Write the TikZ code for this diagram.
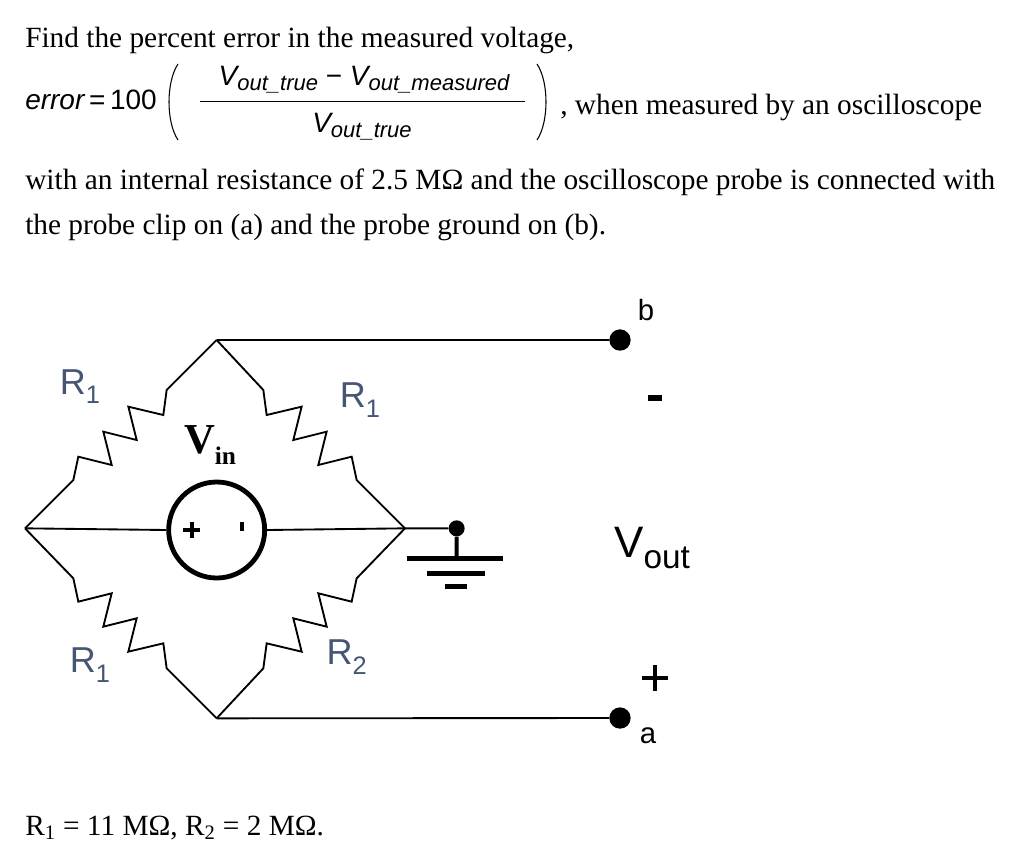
\documentclass[tikz,border=0pt]{standalone}
\usepackage{fontspec}
\setmainfont{Liberation Serif}
\newfontfamily\lsans{Liberation Sans}
\begin{document}
\begin{tikzpicture}[x=0.75pt,y=-0.75pt,
  txt/.style={anchor=west,inner sep=0,font=\fontsize{22}{24}\selectfont},
  frm/.style={inner sep=0,font=\lsans\itshape\fontsize{21}{23}\selectfont},
  lbl/.style={inner sep=0,text={rgb,255:red,70;green,85;blue,115},font=\lsans\fontsize{27}{29}\selectfont},
  blk/.style={inner sep=0,font=\lsans\fontsize{22}{24}\selectfont},
  wire/.style={line width=1.4pt,line join=miter}]
\useasboundingbox (0,0) rectangle (1024,858);
% text
\node[txt] (t1) at (25,40) {Find the percent error in the measured voltage,};
\node[frm,anchor=west] (e) at (25,100) {error\,\upshape =\,100};
\draw[line width=0.8pt] (178,64) .. controls (166,82) and (166,122) .. (178,140);
\draw[line width=0.8pt] (537,64) .. controls (549,82) and (549,122) .. (537,140);
\draw[line width=0.7pt] (200,101) -- (525,101);
\node[frm] (num) at (364,80) {V\raisebox{-0.35ex}{\fontsize{16.5}{17}\selectfont out\_true} \upshape − \itshape V\raisebox{-0.35ex}{\fontsize{16.5}{17}\selectfont out\_measured}};
\node[frm] (den) at (362,127) {V\raisebox{-0.35ex}{\fontsize{16.5}{17}\selectfont out\_true}};
\node[txt] (t2) at (560,107) {, when measured by an oscilloscope};
\node[txt] (t3) at (25,182) {with an internal resistance of 2.5 MΩ and the oscilloscope probe is connected with};
\node[txt] (t4) at (25,227) {the probe clip on (a) and the probe ground on (b).};
\node[txt] (t5) at (25,828) {R\textsubscript{1} = 11 MΩ, R\textsubscript{2} = 2 MΩ.};
% circuit
\begin{scope}[shift={(20,320)},scale=1/3]
\coordinate (L) at (15,625); \coordinate (T) at (590,60);
\coordinate (R) at (1155,625); \coordinate (B) at (590,1195);
\draw[wire] (L) -- (160,480) -- (175,410) -- (275,435) -- (250,335) -- (350,360) -- (325,260) -- (430,285) -- (440,210) -- (T);
\draw[wire] (R) -- (1010,480) -- (995,410) -- (895,435) -- (920,335) -- (820,360) -- (845,260) -- (740,285) -- (730,210) -- (T);
\draw[wire] (L) -- (160,775) -- (175,845) -- (275,820) -- (250,920) -- (350,895) -- (325,995) -- (430,970) -- (440,1045) -- (B);
\draw[wire] (R) -- (1010,775) -- (995,845) -- (895,820) -- (920,920) -- (820,895) -- (845,995) -- (740,970) -- (730,1045) -- (B);
\node[draw,circle,line width=3.6pt,minimum size=72pt,inner sep=0] (src) at (590,630) {};
\draw[wire] (L) -- (src.west);
\draw[wire] (src.east) -- (R);
\draw[line width=3pt] (490,630) -- (540,630) (515,605) -- (515,655);
\draw[line width=3pt] (665,606) -- (665,634);
\node[font=\bfseries\fontsize{32}{32}\selectfont,inner sep=0] (vin) at (570,375) {V\raisebox{-0.6ex}{\fontsize{19}{19}\selectfont in}};
\node[circle,fill,inner sep=0,minimum size=12pt] (gd) at (1310,625) {};
\draw[wire] (R) -- (gd);
\draw[line width=3pt] (gd) -- (1310,715);
\draw[line width=3.6pt] (1160,715) -- (1450,715) (1220,760) -- (1395,760) (1275,800) -- (1340,800);
\node[lbl] (l1) at (180,200) {R\raisebox{-0.5ex}{\fontsize{19}{19}\selectfont 1}};
\node[lbl] (l2) at (1020,240) {R\raisebox{-0.5ex}{\fontsize{19}{19}\selectfont 1}};
\node[lbl] (l3) at (210,1035) {R\raisebox{-0.5ex}{\fontsize{19}{19}\selectfont 1}};
\node[lbl] (l4) at (980,1012) {R\raisebox{-0.5ex}{\fontsize{19}{19}\selectfont 2}};
\end{scope}
\node[circle,fill,inner sep=0,minimum size=16pt] (b) at (620,340) {};
\node[circle,fill,inner sep=0,minimum size=16pt] (a) at (620,718) {};
\draw[wire] (T) -- (b);
\draw[wire] (B) -- (a);
\node[blk] (bl) at (646,310) {b};
\node[blk] (al) at (648,736) {a};
\draw[line width=4pt] (648,398) -- (662,398);
\draw[line width=3.6pt] (642,678) -- (668,678) (655,665) -- (655,691);
\node[inner sep=0,font=\lsans\fontsize{33}{33}\selectfont] (vout) at (652,548) {V\raisebox{-0.5ex}{\fontsize{25}{25}\selectfont out}};
\end{tikzpicture}
\end{document}
